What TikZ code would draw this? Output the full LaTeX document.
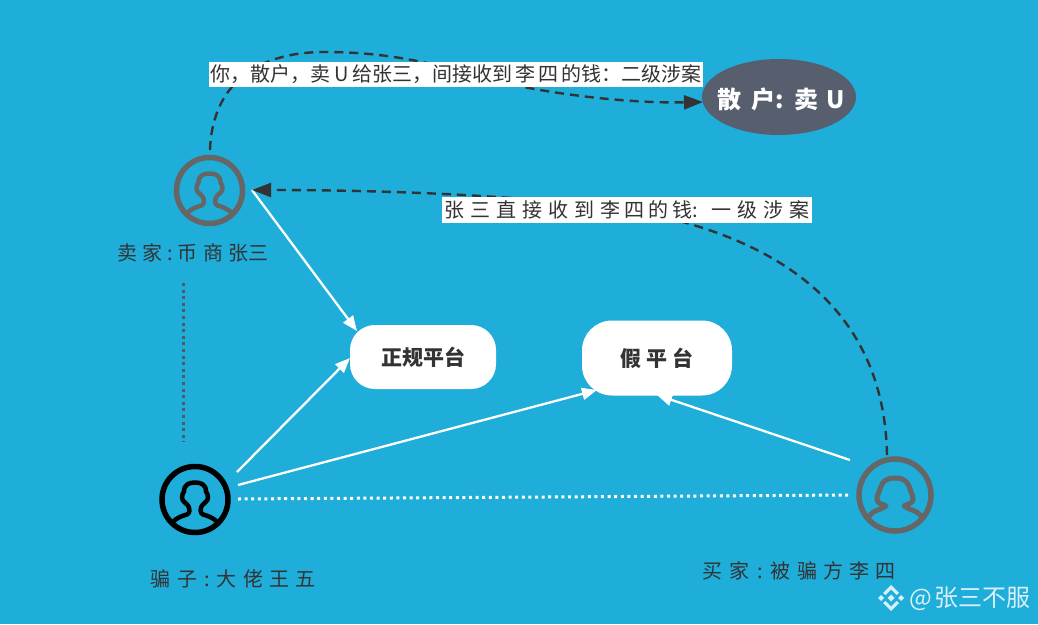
\documentclass[tikz,border=0pt]{standalone}
\usepackage{fontspec}
\setmainfont{Noto Sans CJK SC}
\usetikzlibrary{arrows.meta,shapes.geometric}
\definecolor{bgblue}{HTML}{1FADDA}
\definecolor{inkgrey}{HTML}{333333}
\definecolor{icongrey}{HTML}{666666}
\definecolor{dotgrey}{HTML}{4F5B63}
\definecolor{slate}{HTML}{575E6E}
\definecolor{wmark}{HTML}{D8F0F9}
\tikzset{
  tipdark/.style={-{Triangle[length=19pt,width=14pt]}},
  tipwhite/.style={-{Triangle[length=15pt,width=12pt]}},
  dashlink/.style={draw=inkgrey,line width=2.4pt,dash pattern=on 9pt off 6pt},
  whitelink/.style={draw=white,line width=2.3pt},
  dotlink/.style={line width=3pt,dash pattern=on 3pt off 3.6pt},
  banner/.style={fill=white,text=inkgrey,inner sep=0pt,font=\fontsize{20pt}{22pt}\selectfont},
  caption/.style={text=inkgrey,inner sep=0pt,font=\fontsize{20pt}{22pt}\selectfont},
  platform/.style={fill=white,text=inkgrey,inner sep=0pt,font=\bfseries\fontsize{21pt}{24pt}\selectfont},
  ring/.style={circle,draw,inner sep=0pt,fill=none},
  wmtile/.style={fill=wmark,draw=none}
}
\newcommand{\mansil}{(-23,23) .. controls (-18,18) and (-12,16) .. (-8,15) .. controls (-5,14) and (-5,9) .. (-7,6) .. controls (-9,3) and (-13,2) .. (-13,-2) .. controls (-13,-5) and (-12,-6) .. (-11,-8) .. controls (-11,-15) and (-6,-17) .. (0,-17) .. controls (6,-17) and (11,-15) .. (11,-8) .. controls (12,-6) and (13,-5) .. (13,-2) .. controls (13,2) and (9,3) .. (7,6) .. controls (5,9) and (5,14) .. (8,15) .. controls (12,16) and (18,18) .. (23,23)}
\newcommand{\womansil}{(-26,21) .. controls (-22,15) and (-14,15) .. (-9,11) .. controls (-12,9) and (-17,9) .. (-18,5) .. controls (-19,2) and (-17,0) .. (-16,-3) .. controls (-14,-9) and (-13,-17) .. (0,-17) .. controls (13,-17) and (14,-9) .. (16,-3) .. controls (17,0) and (19,2) .. (18,5) .. controls (17,9) and (12,9) .. (9,11) .. controls (14,15) and (22,15) .. (26,21)}
\begin{document}
\begin{tikzpicture}[x=1pt,y=-1pt]
\fill[bgblue] (0,0) rectangle (1038,624);
\useasboundingbox (0,0) rectangle (1038,624);

% people
\node[ring,draw=icongrey,line width=5.5pt,minimum size=66pt] (seller) at (209.5,190.5) {};
\draw[icongrey,line width=4.5pt,line join=round,shift={(seller.center)}] \mansil;
\node[ring,draw=black,line width=5.5pt,minimum size=66pt] (scammer) at (195,499.5) {};
\draw[black,line width=4.5pt,line join=round,shift={(scammer.center)}] \mansil;
\node[ring,draw=icongrey,line width=5.5pt,minimum size=72pt] (buyer) at (895,495) {};
\draw[icongrey,line width=5pt,line join=round,shift={(buyer.center)}] \womansil;

% platforms
\node[platform,rounded corners=25pt,minimum width=146pt,minimum height=64pt] (real) at (423,357) {正规平台};
\node[platform,rounded corners=30pt,minimum width=150pt,minimum height=75pt] (fake) at (657,358) {假\hspace{5pt}平\hspace{5pt}台};
\node[fill=slate,draw=none,ellipse,minimum width=154pt,minimum height=76pt,inner sep=0pt] (retail) at (779,97) {};
\node[text=white,font=\bfseries\fontsize{24pt}{26pt}\selectfont,inner sep=0pt] (retailtext) at (781,99) {散\hspace{10pt}户:\hspace{10pt}卖\hspace{8pt}U};

% connector end coordinates
\coordinate (sellerTop) at (210,150);
\coordinate (sellerRight) at (252,190);
\coordinate (realTop) at (357,331);
\coordinate (realLeft) at (350,358);
\coordinate (fakeLeft) at (597,390);
\coordinate (fakeBottom) at (657,395);
\coordinate (scamA) at (237,472);
\coordinate (scamB) at (238,485);
\coordinate (scamC) at (238,499);
\coordinate (buyerTop) at (887,455);
\coordinate (buyerLeft) at (850,460);
\coordinate (buyerDot) at (850,495);
\coordinate (retailLeft) at (703,102);
\coordinate (dotTop) at (183,283);
\coordinate (dotBottom) at (183,442);

% white links
\draw[whitelink,tipwhite] (sellerRight) -- (realTop);
\draw[whitelink,tipwhite] (scamA) -- (realLeft);
\draw[whitelink,tipwhite] (scamB) -- (fakeLeft);
\draw[whitelink,tipwhite] (buyerLeft) -- (fakeBottom);
\draw[white,dotlink] (scamC) -- (buyerDot);
\draw[dotgrey,dotlink] (dotTop) -- (dotBottom);

% dashed links
\draw[dashlink,tipdark] (sellerTop) .. controls (212,90) and (250,52) .. (325,52) .. controls (420,52) and (470,78) .. (540,90) .. controls (600,100) and (650,103) .. (retailLeft);
\draw[dashlink,tipdark] (buyerTop) .. controls (885,350) and (830,265) .. (690,224) .. controls (600,197) and (400,190) .. (sellerRight);

% banners
\node[banner,minimum width=494pt,minimum height=25pt] (bannerA) at (456,74.5) {你，散户，卖\hspace{4pt}U\hspace{4pt}给张三，间接收到\hspace{3pt}李\hspace{3pt}四\hspace{3pt}的钱：二级涉案};
\node[banner,minimum width=370pt,minimum height=26pt] (bannerB) at (627,210) {张\hspace{6pt}三\hspace{6pt}直\hspace{6pt}接\hspace{6pt}收\hspace{6pt}到\hspace{6pt}李\hspace{4pt}四\hspace{4pt}的\hspace{4pt}钱:\hspace{13pt}一\hspace{6pt}级\hspace{6pt}涉\hspace{6pt}案};

% captions
\node[caption] (sellercap) at (193,253) {卖\hspace{5pt}家\hspace{5pt}:\hspace{5pt}币\hspace{6pt}商\hspace{5pt}张三};
\node[caption] (scammercap) at (233,579) {骗\hspace{7pt}子\hspace{7pt}:\hspace{7pt}大\hspace{7pt}佬\hspace{6pt}王\hspace{6pt}五};
\node[caption] (buyercap) at (799,571) {买\hspace{7.5pt}家\hspace{7.5pt}:\hspace{7.5pt}被\hspace{7pt}骗\hspace{6pt}方\hspace{6pt}李\hspace{6pt}四};

% watermark
\begin{scope}[shift={(891,598)}]
\fill[wmtile] (0,-3.5) -- (3.5,0) -- (0,3.5) -- (-3.5,0) -- cycle;
\fill[wmtile] (-10,-3) -- (-7,0) -- (-10,3) -- (-13,0) -- cycle;
\fill[wmtile] (10,-3) -- (13,0) -- (10,3) -- (7,0) -- cycle;
\fill[wmtile] (0,-13) -- (8,-5) -- (5.5,-3) -- (0,-8.5) -- (-5.5,-3) -- (-8,-5) -- cycle;
\fill[wmtile] (0,13) -- (8,5) -- (5.5,3) -- (0,8.5) -- (-5.5,3) -- (-8,5) -- cycle;
\end{scope}
\node[text=wmark,inner sep=0pt,font=\fontsize{24pt}{26pt}\selectfont] (wmtext) at (970,599) {@\hspace{3pt}张三不服};
\end{tikzpicture}
\end{document}
